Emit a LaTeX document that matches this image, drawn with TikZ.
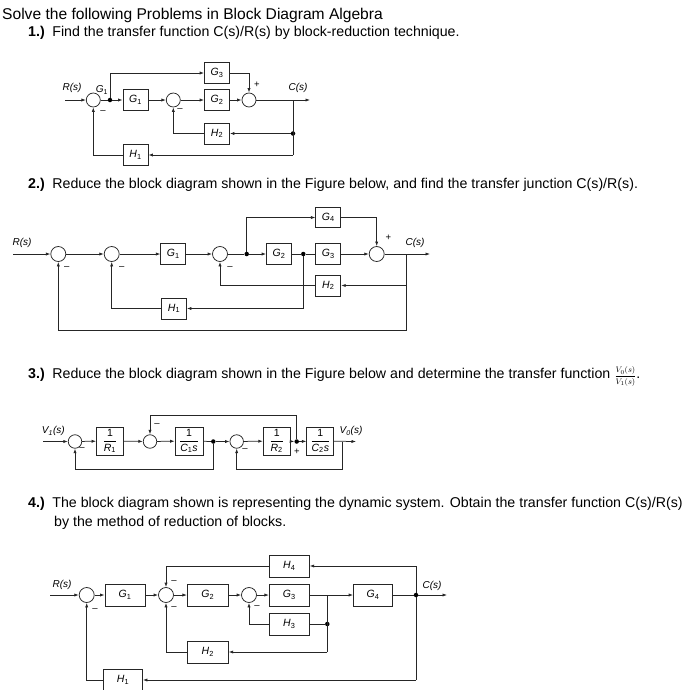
\documentclass[tikz,border=0pt]{standalone}
\usepackage{fontspec}
\setmainfont{Liberation Sans}
\usetikzlibrary{arrows.meta}
\newcommand{\bl}[2]{\textit{#1}\textsubscript{#2}}
\newcommand{\fr}[2]{$\displaystyle\frac{\mbox{#1}}{\mbox{#2}}$}
\begin{document}
\begin{tikzpicture}[x=1pt,y=-1pt,
  ln/.style={draw=black!85,line width=0.75pt},
  arr/.style={ln,-{Latex[length=4.5pt,width=3.2pt]}},
  blk/.style={draw=black!85,line width=0.75pt,fill=white,inner sep=0pt,font=\fontsize{10.5}{11}\selectfont},
  sb/.style={blk,minimum width=25pt,minimum height=21pt},
  fb/.style={blk,minimum width=27pt,minimum height=28pt,font=\fontsize{10.5}{11}\selectfont},
  sm/.style={draw=black!85,line width=0.75pt,circle,inner sep=0pt,minimum size=14pt},
  dt/.style={circle,fill=black,inner sep=0pt,minimum size=4.5pt},
  lab/.style={inner sep=0pt,font=\fontsize{10}{11}\selectfont\itshape},
  sg/.style={inner sep=0pt,font=\fontsize{9.5}{10}\selectfont},
  q/.style={anchor=base west,inner sep=0pt,font=\fontsize{14.2}{16}\selectfont}]
\useasboundingbox (0,0) rectangle (700,689);
\clip (0,0) rectangle (700,689);

% ---------- texts ----------
\node[anchor=base west,inner sep=0pt,font=\fontsize{15.6}{18}\selectfont] (t0) at (2,19) {Solve the following Problems in Block Diagram Algebra};
\node[q] (t1) at (28,36) {\textbf{1.)}\, Find the transfer function C(s)/R(s) by block-reduction technique.};
\node[q] (t2) at (28,188) {\textbf{2.)}\, Reduce the block diagram shown in the Figure below, and find the transfer junction C(s)/R(s).};
\node[q] (t3) at (28,378) {\textbf{3.)}\, Reduce the block diagram shown in the Figure below and determine the transfer function \raisebox{-0.5pt}{\fontsize{8.5}{9}\selectfont$\displaystyle\frac{V_0(s)}{V_1(s)}$}.};
\node[q] (t4) at (28,507) {\textbf{4.)}\, The block diagram shown is representing the dynamic system. Obtain the transfer function C(s)/R(s)};
\node[q] (t4b) at (54,526) {by the method of reduction of blocks.};

% ---------- diagram 1 ----------
\coordinate (in1) at (65,100);
\node[sm] (s11) at (93.3,100) {};
\node[dt] (d11) at (110,100) {};
\node[sb] (g11) at (135.5,100) {\bl{G}{1}};
\node[sm] (s12) at (173.3,100) {};
\node[sb] (g12) at (217,100) {\bl{G}{2}};
\node[sm] (s13) at (249,100) {};
\node[sb] (g13) at (217,73) {\bl{G}{3}};
\node[sb] (h12) at (217,133.5) {\bl{H}{2}};
\node[sb] (h11) at (135.5,155) {\bl{H}{1}};
\coordinate (out1) at (310,100);
\coordinate (c1a) at (293,100);
\node[dt] (d12) at (293,133.5) {};
\coordinate (c1b) at (293,155);
\draw[arr] (in1) -- (s11);
\draw[ln] (s11) -- (d11);
\draw[arr] (d11) -- (g11);
\draw[arr] (g11) -- (s12);
\draw[arr] (s12) -- (g12);
\draw[arr] (g12) -- (s13);
\draw[arr] (s13) -- (out1);
\draw[arr] (d11) |- (g13);
\draw[arr] (g13) -| (s13);
\draw[ln] (c1a) -- (c1b);
\draw[arr] (d12) -- (h12);
\draw[arr] (h12) -| (s12);
\draw[arr] (c1b) -- (h11);
\draw[arr] (h11) -| (s11);
\node[lab] (l11) at (72,88) {R(s)};
\node[sg,font=\fontsize{10}{11}\selectfont] (l12) at (102,90) {\bl{G}{1}};
\node[sg] (l13) at (103,112) {--};
\node[sg] (l14) at (180,110) {--};
\node[sg] (l15) at (257,85) {+};
\node[lab] (l16) at (298,88) {C(s)};

% ---------- diagram 2 ----------
\coordinate (in2) at (13,254);
\node[sm,minimum size=15pt] (s21) at (58.3,254) {};
\node[sm,minimum size=15pt] (s22) at (111.7,254) {};
\node[sb] (g21) at (173.3,254) {\bl{G}{1}};
\node[sm,minimum size=15pt] (s23) at (220,254) {};
\node[dt] (d21) at (246.7,254) {};
\node[sb] (g22) at (279,254) {\bl{G}{2}};
\node[dt] (d22) at (303.3,254) {};
\node[sb] (g23) at (328.3,254) {\bl{G}{3}};
\node[sm,minimum size=15pt] (s24) at (376.7,254) {};
\node[sb,minimum height=20pt] (g24) at (328.3,217.5) {\bl{G}{4}};
\node[sb] (h22) at (328.3,285.5) {\bl{H}{2}};
\node[sb] (h21) at (174,308.5) {\bl{H}{1}};
\coordinate (out2) at (430,254);
\coordinate (c2a) at (406.7,254);
\coordinate (c2b) at (406.7,285.5);
\coordinate (c2c) at (406.7,330);
\coordinate (c2e) at (303.3,308.5);
\draw[arr] (in2) -- (s21);
\draw[arr] (s21) -- (s22);
\draw[arr] (s22) -- (g21);
\draw[arr] (g21) -- (s23);
\draw[ln] (s23) -- (d21);
\draw[arr] (d21) -- (g22);
\draw[ln] (g22) -- (d22);
\draw[ln] (d22) -- (g23);
\draw[arr] (g23) -- (s24);
\draw[arr] (s24) -- (out2);
\draw[arr] (d21) |- (g24);
\draw[arr] (g24) -| (s24);
\draw[ln] (c2a) -- (c2c);
\draw[arr] (c2b) -- (h22);
\draw[arr] (h22) -| (s23);
\draw[ln] (d22) -- (c2e);
\draw[arr] (c2e) -- (h21);
\draw[arr] (h21) -| (s22);
\draw[arr] (c2c) -| (s21);
\node[lab] (l21) at (22,243) {R(s)};
\node[sg] (l22) at (66.7,268) {--};
\node[sg] (l23) at (121.7,268) {--};
\node[sg] (l24) at (230,268) {--};
\node[sg] (l25) at (388.3,238) {+};
\node[lab] (l26) at (415,243) {C(s)};

% ---------- diagram 3 ----------
\coordinate (in3) at (43,441.5);
\node[sm,minimum size=13.5pt] (s31) at (75,441.5) {};
\node[fb] (g31) at (110,441) {\fr{1}{\bl{R}{1}}};
\node[sm,minimum size=13.5pt] (s32) at (150,441.5) {};
\node[fb,minimum width=28pt] (g32) at (189,441) {\fr{1}{\bl{C}{1}\textit{s}}};
\node[dt] (d31) at (213.3,441.5) {};
\node[sm,minimum size=13.5pt] (s33) at (236.7,441.5) {};
\node[fb] (g33) at (276.7,441) {\fr{1}{\bl{R}{2}}};
\node[dt] (d32) at (296.7,441.5) {};
\node[fb] (g34) at (320.3,441) {\fr{1}{\bl{C}{2}\textit{s}}};
\coordinate (out3) at (356,441.5);
\coordinate (c3a) at (296.7,415);
\coordinate (c3b) at (213.3,469);
\coordinate (c3c) at (342.7,441.5);
\coordinate (c3d) at (342.7,469);
\draw[arr] (in3) -- (s31);
\draw[arr] (s31) -- (g31);
\draw[arr] (g31) -- (s32);
\draw[arr] (s32) -- (g32);
\draw[ln] (g32) -- (d31);
\draw[arr] (d31) -- (s33);
\draw[arr] (s33) -- (g33);
\draw[arr] (g33) -- (d32);
\draw[arr] (d32) -- (g34);
\draw[arr] (g34) -- (out3);
\draw[arr] (d32) -- (c3a) -| (s32);
\draw[arr] (d31) -- (c3b) -| (s31);
\draw[arr] (c3c) -- (c3d) -| (s33);
\node[lab] (l31) at (53.3,431) {\bl{V}{1}(s)};
\node[sg] (l32) at (82,449) {--};
\node[sg] (l33) at (157,425) {--};
\node[sg] (l34) at (245,450) {--};
\node[sg] (l35) at (297,452) {+};
\node[lab] (l36) at (351,431) {\bl{V}{0}(s)};

% ---------- diagram 4 ----------
\coordinate (in4) at (50,595);
\node[sm,minimum size=15pt] (s41) at (86.7,595) {};
\node[blk,minimum width=40pt,minimum height=22pt] (g41) at (125,595) {\bl{G}{1}};
\node[sm,minimum size=15pt] (s42) at (166,595) {};
\node[blk,minimum width=41pt,minimum height=22pt] (g42) at (207.8,595) {\bl{G}{2}};
\node[sm,minimum size=15pt] (s43) at (249,595) {};
\node[blk,minimum width=40pt,minimum height=22pt] (g43) at (289.3,595) {\bl{G}{3}};
\node[blk,minimum width=40pt,minimum height=22pt] (h44) at (289.3,566) {\bl{H}{4}};
\node[blk,minimum width=40pt,minimum height=22pt] (h43) at (289.3,624) {\bl{H}{3}};
\node[blk,minimum width=39pt,minimum height=22pt] (g44) at (373,595) {\bl{G}{4}};
\node[dt] (d41) at (416,595) {};
\coordinate (out4) at (447,595);
\coordinate (c4a) at (327.3,595);
\node[dt] (d42) at (327.3,624) {};
\coordinate (c4b) at (327.3,652);
\node[blk,minimum width=41pt,minimum height=22pt] (h42) at (207.8,652) {\bl{H}{2}};
\node[blk,minimum width=39pt,minimum height=22pt] (h41) at (123,680) {\bl{H}{1}};
\coordinate (c4c) at (416,566);
\coordinate (c4d) at (416,680);
\draw[arr] (in4) -- (s41);
\draw[arr] (s41) -- (g41);
\draw[arr] (g41) -- (s42);
\draw[arr] (s42) -- (g42);
\draw[arr] (g42) -- (s43);
\draw[arr] (s43) -- (g43);
\draw[arr] (g43) -- (g44);
\draw[ln] (g44) -- (d41);
\draw[arr] (d41) -- (out4);
\draw[ln] (c4a) -- (c4b);
\draw[ln] (d42) -- (h43);
\draw[arr] (h43) -| (s43);
\draw[arr] (c4b) -- (h42);
\draw[arr] (h42) -| (s42);
\draw[ln] (d41) -- (c4c);
\draw[arr] (c4c) -- (h44);
\draw[arr] (h44) -| (s42);
\draw[ln] (d41) -- (c4d);
\draw[arr] (c4d) -- (h41);
\draw[arr] (h41) -| (s41);
\node[lab] (l41) at (62,585) {R(s)};
\node[sg] (l42) at (95,610) {--};
\node[sg] (l43) at (174,582) {--};
\node[sg] (l44) at (174,608) {--};
\node[sg] (l45) at (257,607) {--};
\node[lab] (l46) at (432,586) {C(s)};
\end{tikzpicture}
\end{document}
